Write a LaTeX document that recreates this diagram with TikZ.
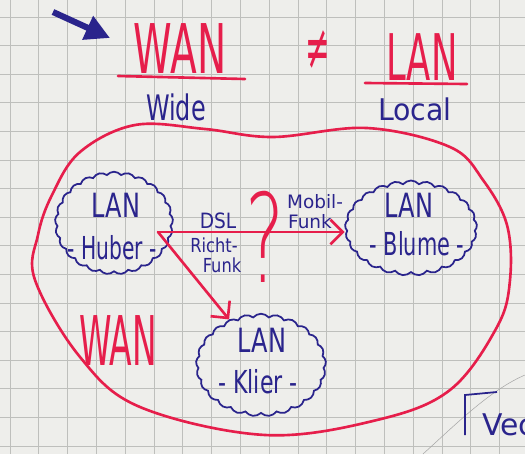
\documentclass[tikz,border=0pt]{standalone}
\usepackage{fontspec}
\setmainfont{DejaVu Sans}
\newfontfamily\thinfont{DejaVu Sans ExtraLight}
\usepackage{graphicx}
\usetikzlibrary{calc,shapes.symbols,arrows.meta}
\definecolor{penred}{RGB}{230,30,75}
\definecolor{penblue}{RGB}{42,36,140}
\definecolor{paper}{RGB}{238,238,235}
\definecolor{gridgray}{RGB}{190,191,188}
\tikzset{
  lancloud/.style={cloud,cloud puffs=25,cloud puff arc=100,draw=penblue,line width=1pt,inner sep=0pt},
  bluetext/.style={text=penblue,inner sep=0pt,anchor=base},
  redtext/.style={text=penred,inner sep=0pt,anchor=base},
  redline/.style={draw=penred,line width=1.5pt,line cap=round},
  redarrow/.style={redline,-{Straight Barb[length=7pt,width=14pt]}}
}

\begin{document}
\begin{tikzpicture}[x=0.02cm,y=-0.02cm]
  \fill[paper](0,0) rectangle (525,454);
  \useasboundingbox(0,0) rectangle (525,454);
  \foreach \i in {0,...,18}
    \draw[gridgray,line width=.4pt](10+28.8*\i,0)--(10+28.8*\i,454);
  \foreach \i in {0,...,15}
    \draw[gridgray,line width=.4pt](0,17+28.6*\i)--(525,17+28.6*\i);
  \draw[gray!70,line width=.3pt](423,454) .. controls (455,425) and (490,390) .. (525,375);

  \begin{scope}
    \coordinate(ptail) at (53,12);
    \coordinate(ptip) at (110,38);
    \draw[penblue,line width=3.5pt,-{Triangle[length=14pt,width=14pt]}](ptail)--(ptip);
    \node[redtext,font=\fontsize{39}{39}\selectfont](wantitle) at (180,73){\scalebox{.57}[1]{WAN}};
    \node[redtext,font=\fontsize{28}{28}\selectfont,anchor=center](neq) at (318,50){\scalebox{.6}[1.3]{≠}};
    \node[redtext,font=\fontsize{36.6}{37}\selectfont](lantitle) at (422,80){\scalebox{.55}[1]{LAN}};
    \draw[redline](118,76)--(245,79);
    \draw[redline](365,83)--(467,84);
    \node[bluetext,font=\fontsize{20}{20}\selectfont](wide) at (176,120){\scalebox{.68}[1]{Wide}};
    \node[bluetext,font=\fontsize{17}{17}\selectfont](local) at (415,120){\scalebox{.95}[1]{Local}};
  \end{scope}

  \begin{scope}
    \draw[redline] plot[smooth cycle,tension=.6] coordinates {(135,125) (205,129) (273,137) (367,128) (450,147) (483,180) (507,225) (510,280) (497,327) (450,390) (377,420) (265,435) (140,407) (80,357) (35,280) (38,235) (52,195) (80,152)};
    \node[redtext,font=\fontsize{39}{39}\selectfont](wanlabel) at (118,365){\scalebox{.48}[1]{WAN}};

    \node[lancloud,minimum width=2.36cm,minimum height=2.05cm](huber) at (114,223){};
    \node[lancloud,minimum width=2.64cm,minimum height=1.9cm](blume) at (411,228){};
    \node[lancloud,minimum width=2.6cm,minimum height=2.05cm](klier) at (261,365){};

    \node[bluetext,font=\fontsize{19}{19}\selectfont](huberlan) at (116,217){\scalebox{.72}[1]{LAN}};
    \node[bluetext,font=\fontsize{18}{18}\selectfont](hubername) at (112,259){\scalebox{.64}[1]{- Huber -}};
    \node[bluetext,font=\fontsize{19}{19}\selectfont](blumelan) at (409,217){\scalebox{.72}[1]{LAN}};
    \node[bluetext,font=\fontsize{18}{18}\selectfont](blumename) at (417,255){\scalebox{.66}[1]{- Blume -}};
    \node[bluetext,font=\fontsize{19}{19}\selectfont](klierlan) at (262,352){\scalebox{.72}[1]{LAN}};
    \node[bluetext,font=\fontsize{18}{18}\selectfont](kliername) at (258,393){\scalebox{.7}[1]{- Klier -}};

    \coordinate(fork) at (158,232);
    \draw[redarrow](fork)--(fork -| blume.west);
    \draw[redarrow](fork)--(klier.125);

    \node[redtext,font=\thinfont\fontsize{70}{70}\selectfont](quest) at (265,282){\scalebox{.6}[1]{?}};
    \node[bluetext,font=\fontsize{12}{12}\selectfont](dsl) at (218,228){\scalebox{.88}[1]{DSL}};
    \node[bluetext,font=\fontsize{11}{11}\selectfont](richt) at (214,252){\scalebox{.84}[1]{Richt-}};
    \node[bluetext,font=\fontsize{11}{11}\selectfont](funka) at (222,272){\scalebox{.84}[1]{Funk}};
    \node[bluetext,font=\fontsize{10.5}{10.5}\selectfont](mobil) at (315,208){Mobil-};
    \node[bluetext,font=\fontsize{10.5}{10.5}\selectfont](funkb) at (310,228){Funk};
  \end{scope}

  \node[bluetext,font=\fontsize{17}{17}\selectfont,anchor=base west](vect) at (482,435){Vect};
  \draw[penblue,line width=1pt](465,435)--(465,395)--(497,392);
\end{tikzpicture}
\end{document}
